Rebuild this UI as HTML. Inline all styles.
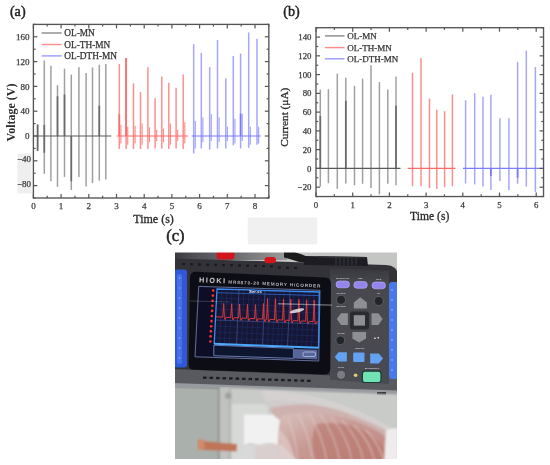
<!DOCTYPE html>
<html><head><meta charset="utf-8"><title>Figure</title>
<style>
html,body{margin:0;padding:0;background:#fff;}
body{width:550px;height:465px;overflow:hidden;}
svg{display:block;}
</style></head>
<body>
<svg width="550" height="465" viewBox="0 0 550 465">
<rect width="550" height="465" fill="#ffffff"/>
<defs>
<filter id="soft" x="-5%" y="-5%" width="110%" height="110%"><feGaussianBlur stdDeviation="0.62"/></filter>
<filter id="ph" x="0" y="0" width="100%" height="100%"><feGaussianBlur stdDeviation="0.62"/></filter>
<filter id="ph3" x="0" y="0" width="100%" height="100%"><feGaussianBlur stdDeviation="1.1"/></filter>
<clipPath id="pc"><rect x="175" y="252.5" width="222" height="206.5"/></clipPath>
</defs>
<g filter="url(#soft)">
<g font-family="'Liberation Serif', 'Times New Roman', serif">
<rect x="17.5" y="153.5" width="14" height="40" fill="#efefef"/>
<rect x="247.8" y="217.4" width="69.4" height="27" fill="#f0f0f0"/>
<line x1="37.6" y1="124.53" x2="37.6" y2="150.88" stroke="#a0a0a0" stroke-width="1.5"/>
<line x1="44.3" y1="60.48" x2="44.3" y2="173.82" stroke="#a0a0a0" stroke-width="1.5"/>
<line x1="50.9" y1="65.63" x2="50.9" y2="181.26" stroke="#a0a0a0" stroke-width="1.5"/>
<line x1="57.5" y1="85.16" x2="57.5" y2="186.84" stroke="#a0a0a0" stroke-width="1.5"/>
<line x1="64.5" y1="68.73" x2="64.5" y2="176.92" stroke="#a0a0a0" stroke-width="1.5"/>
<line x1="71.3" y1="74.62" x2="71.3" y2="189.94" stroke="#a0a0a0" stroke-width="1.5"/>
<line x1="78.9" y1="67.18" x2="78.9" y2="176.92" stroke="#a0a0a0" stroke-width="1.5"/>
<line x1="86.1" y1="73.01" x2="86.1" y2="186.53" stroke="#a0a0a0" stroke-width="1.5"/>
<line x1="92.5" y1="67.49" x2="92.5" y2="183.12" stroke="#a0a0a0" stroke-width="1.5"/>
<line x1="99.3" y1="64.7" x2="99.3" y2="180.64" stroke="#a0a0a0" stroke-width="1.5"/>
<line x1="105.8" y1="64.08" x2="105.8" y2="179.4" stroke="#a0a0a0" stroke-width="1.5"/>
<line x1="37.6" y1="124.53" x2="37.6" y2="150.88" stroke="#6a6a6a" stroke-width="1.7"/>
<line x1="44.3" y1="124.84" x2="44.3" y2="152.74" stroke="#6a6a6a" stroke-width="1.7"/>
<line x1="57.5" y1="96.32" x2="57.5" y2="136" stroke="#6a6a6a" stroke-width="1.7"/>
<line x1="64.5" y1="94.46" x2="64.5" y2="136" stroke="#6a6a6a" stroke-width="1.7"/>
<line x1="71.3" y1="136" x2="71.3" y2="181.26" stroke="#6a6a6a" stroke-width="1.7"/>
<line x1="99.3" y1="105.62" x2="99.3" y2="136" stroke="#6a6a6a" stroke-width="1.7"/>
<line x1="33.4" y1="136" x2="111.2" y2="136" stroke="#5a5a5a" stroke-width="1.1"/>
<line x1="119.3" y1="64.08" x2="119.3" y2="149.02" stroke="#ff8f8f" stroke-width="1.5"/>
<line x1="126.1" y1="57.88" x2="126.1" y2="149.02" stroke="#ff8f8f" stroke-width="1.5"/>
<line x1="133.5" y1="83.3" x2="133.5" y2="149.02" stroke="#ff8f8f" stroke-width="1.5"/>
<line x1="140.5" y1="91.98" x2="140.5" y2="149.02" stroke="#ff8f8f" stroke-width="1.5"/>
<line x1="147.9" y1="67.18" x2="147.9" y2="149.02" stroke="#ff8f8f" stroke-width="1.5"/>
<line x1="155.1" y1="98.18" x2="155.1" y2="148.4" stroke="#ff8f8f" stroke-width="1.5"/>
<line x1="161.8" y1="76.48" x2="161.8" y2="148.4" stroke="#ff8f8f" stroke-width="1.5"/>
<line x1="168.8" y1="82.68" x2="168.8" y2="149.02" stroke="#ff8f8f" stroke-width="1.5"/>
<line x1="176.1" y1="87.64" x2="176.1" y2="148.4" stroke="#ff8f8f" stroke-width="1.5"/>
<line x1="183.2" y1="74.62" x2="183.2" y2="149.02" stroke="#ff8f8f" stroke-width="1.5"/>
<line x1="119.3" y1="114.3" x2="119.3" y2="136" stroke="#ff6a6a" stroke-width="1.7"/>
<line x1="120.9" y1="124.84" x2="120.9" y2="143.44" stroke="#ff8f8f" stroke-width="1.2"/>
<line x1="126.1" y1="57.88" x2="126.1" y2="136" stroke="#ff6a6a" stroke-width="1.7"/>
<line x1="127.7" y1="126.7" x2="127.7" y2="144.68" stroke="#ff8f8f" stroke-width="1.2"/>
<line x1="135.1" y1="126.08" x2="135.1" y2="143.44" stroke="#ff8f8f" stroke-width="1.2"/>
<line x1="142.1" y1="123.6" x2="142.1" y2="144.68" stroke="#ff8f8f" stroke-width="1.2"/>
<line x1="149.5" y1="127.32" x2="149.5" y2="142.2" stroke="#ff8f8f" stroke-width="1.2"/>
<line x1="156.7" y1="129.8" x2="156.7" y2="140.96" stroke="#ff8f8f" stroke-width="1.2"/>
<line x1="163.4" y1="128.56" x2="163.4" y2="142.2" stroke="#ff8f8f" stroke-width="1.2"/>
<line x1="170.4" y1="123.6" x2="170.4" y2="144.68" stroke="#ff8f8f" stroke-width="1.2"/>
<line x1="177.7" y1="129.8" x2="177.7" y2="140.96" stroke="#ff8f8f" stroke-width="1.2"/>
<line x1="184.8" y1="122.36" x2="184.8" y2="143.44" stroke="#ff8f8f" stroke-width="1.2"/>
<line x1="116.6" y1="136" x2="188" y2="136" stroke="#ff6a6a" stroke-width="1.1"/>
<line x1="193.7" y1="44.24" x2="193.7" y2="153.36" stroke="#a5a5ff" stroke-width="1.5"/>
<line x1="201.3" y1="52.92" x2="201.3" y2="148.4" stroke="#a5a5ff" stroke-width="1.5"/>
<line x1="209.7" y1="67.18" x2="209.7" y2="149.64" stroke="#a5a5ff" stroke-width="1.5"/>
<line x1="217.5" y1="39.9" x2="217.5" y2="148.4" stroke="#a5a5ff" stroke-width="1.5"/>
<line x1="225.8" y1="78.34" x2="225.8" y2="148.4" stroke="#a5a5ff" stroke-width="1.5"/>
<line x1="233.3" y1="56.02" x2="233.3" y2="145.3" stroke="#a5a5ff" stroke-width="1.5"/>
<line x1="240.6" y1="53.54" x2="240.6" y2="148.4" stroke="#a5a5ff" stroke-width="1.5"/>
<line x1="248.7" y1="32.46" x2="248.7" y2="147.78" stroke="#a5a5ff" stroke-width="1.5"/>
<line x1="257" y1="38.66" x2="257" y2="144.68" stroke="#a5a5ff" stroke-width="1.5"/>
<line x1="195.3" y1="121.12" x2="195.3" y2="148.4" stroke="#a5a5ff" stroke-width="1.2"/>
<line x1="202.9" y1="117.4" x2="202.9" y2="142.2" stroke="#a5a5ff" stroke-width="1.2"/>
<line x1="211.3" y1="114.3" x2="211.3" y2="140.96" stroke="#a5a5ff" stroke-width="1.2"/>
<line x1="219.1" y1="117.4" x2="219.1" y2="142.2" stroke="#a5a5ff" stroke-width="1.2"/>
<line x1="227.4" y1="126.7" x2="227.4" y2="140.96" stroke="#a5a5ff" stroke-width="1.2"/>
<line x1="234.9" y1="118.64" x2="234.9" y2="143.44" stroke="#a5a5ff" stroke-width="1.2"/>
<line x1="240.6" y1="113.68" x2="240.6" y2="136" stroke="#7878ff" stroke-width="1.7"/>
<line x1="242.2" y1="113.68" x2="242.2" y2="140.96" stroke="#a5a5ff" stroke-width="1.2"/>
<line x1="250.3" y1="126.7" x2="250.3" y2="144.68" stroke="#a5a5ff" stroke-width="1.2"/>
<line x1="258.6" y1="126.7" x2="258.6" y2="143.44" stroke="#a5a5ff" stroke-width="1.2"/>
<line x1="191.6" y1="136" x2="260.7" y2="136" stroke="#7c7cff" stroke-width="1.1"/>
<rect x="33.4" y="24.4" width="235.45" height="173.6" fill="none" stroke="#555555" stroke-width="1.35"/>
<line x1="33.4" y1="198" x2="33.4" y2="194" stroke="#555555" stroke-width="1.2"/>
<line x1="33.4" y1="24.4" x2="33.4" y2="28.4" stroke="#555555" stroke-width="1.2"/>
<text x="33.4" y="209.2" font-size="9" text-anchor="middle" font-weight="normal" fill="#3a3a3a" stroke="#3a3a3a" stroke-width="0.25">0</text>
<line x1="47.25" y1="198" x2="47.25" y2="195.8" stroke="#555555" stroke-width="1.2"/>
<line x1="47.25" y1="24.4" x2="47.25" y2="26.6" stroke="#555555" stroke-width="1.2"/>
<line x1="61.1" y1="198" x2="61.1" y2="194" stroke="#555555" stroke-width="1.2"/>
<line x1="61.1" y1="24.4" x2="61.1" y2="28.4" stroke="#555555" stroke-width="1.2"/>
<text x="61.1" y="209.2" font-size="9" text-anchor="middle" font-weight="normal" fill="#3a3a3a" stroke="#3a3a3a" stroke-width="0.25">1</text>
<line x1="74.95" y1="198" x2="74.95" y2="195.8" stroke="#555555" stroke-width="1.2"/>
<line x1="74.95" y1="24.4" x2="74.95" y2="26.6" stroke="#555555" stroke-width="1.2"/>
<line x1="88.8" y1="198" x2="88.8" y2="194" stroke="#555555" stroke-width="1.2"/>
<line x1="88.8" y1="24.4" x2="88.8" y2="28.4" stroke="#555555" stroke-width="1.2"/>
<text x="88.8" y="209.2" font-size="9" text-anchor="middle" font-weight="normal" fill="#3a3a3a" stroke="#3a3a3a" stroke-width="0.25">2</text>
<line x1="102.65" y1="198" x2="102.65" y2="195.8" stroke="#555555" stroke-width="1.2"/>
<line x1="102.65" y1="24.4" x2="102.65" y2="26.6" stroke="#555555" stroke-width="1.2"/>
<line x1="116.5" y1="198" x2="116.5" y2="194" stroke="#555555" stroke-width="1.2"/>
<line x1="116.5" y1="24.4" x2="116.5" y2="28.4" stroke="#555555" stroke-width="1.2"/>
<text x="116.5" y="209.2" font-size="9" text-anchor="middle" font-weight="normal" fill="#3a3a3a" stroke="#3a3a3a" stroke-width="0.25">3</text>
<line x1="130.35" y1="198" x2="130.35" y2="195.8" stroke="#555555" stroke-width="1.2"/>
<line x1="130.35" y1="24.4" x2="130.35" y2="26.6" stroke="#555555" stroke-width="1.2"/>
<line x1="144.2" y1="198" x2="144.2" y2="194" stroke="#555555" stroke-width="1.2"/>
<line x1="144.2" y1="24.4" x2="144.2" y2="28.4" stroke="#555555" stroke-width="1.2"/>
<text x="144.2" y="209.2" font-size="9" text-anchor="middle" font-weight="normal" fill="#3a3a3a" stroke="#3a3a3a" stroke-width="0.25">4</text>
<line x1="158.05" y1="198" x2="158.05" y2="195.8" stroke="#555555" stroke-width="1.2"/>
<line x1="158.05" y1="24.4" x2="158.05" y2="26.6" stroke="#555555" stroke-width="1.2"/>
<line x1="171.9" y1="198" x2="171.9" y2="194" stroke="#555555" stroke-width="1.2"/>
<line x1="171.9" y1="24.4" x2="171.9" y2="28.4" stroke="#555555" stroke-width="1.2"/>
<text x="171.9" y="209.2" font-size="9" text-anchor="middle" font-weight="normal" fill="#3a3a3a" stroke="#3a3a3a" stroke-width="0.25">5</text>
<line x1="185.75" y1="198" x2="185.75" y2="195.8" stroke="#555555" stroke-width="1.2"/>
<line x1="185.75" y1="24.4" x2="185.75" y2="26.6" stroke="#555555" stroke-width="1.2"/>
<line x1="199.6" y1="198" x2="199.6" y2="194" stroke="#555555" stroke-width="1.2"/>
<line x1="199.6" y1="24.4" x2="199.6" y2="28.4" stroke="#555555" stroke-width="1.2"/>
<text x="199.6" y="209.2" font-size="9" text-anchor="middle" font-weight="normal" fill="#3a3a3a" stroke="#3a3a3a" stroke-width="0.25">6</text>
<line x1="213.45" y1="198" x2="213.45" y2="195.8" stroke="#555555" stroke-width="1.2"/>
<line x1="213.45" y1="24.4" x2="213.45" y2="26.6" stroke="#555555" stroke-width="1.2"/>
<line x1="227.3" y1="198" x2="227.3" y2="194" stroke="#555555" stroke-width="1.2"/>
<line x1="227.3" y1="24.4" x2="227.3" y2="28.4" stroke="#555555" stroke-width="1.2"/>
<text x="227.3" y="209.2" font-size="9" text-anchor="middle" font-weight="normal" fill="#3a3a3a" stroke="#3a3a3a" stroke-width="0.25">7</text>
<line x1="241.15" y1="198" x2="241.15" y2="195.8" stroke="#555555" stroke-width="1.2"/>
<line x1="241.15" y1="24.4" x2="241.15" y2="26.6" stroke="#555555" stroke-width="1.2"/>
<line x1="255" y1="198" x2="255" y2="194" stroke="#555555" stroke-width="1.2"/>
<line x1="255" y1="24.4" x2="255" y2="28.4" stroke="#555555" stroke-width="1.2"/>
<text x="255" y="209.2" font-size="9" text-anchor="middle" font-weight="normal" fill="#3a3a3a" stroke="#3a3a3a" stroke-width="0.25">8</text>
<line x1="268.85" y1="198" x2="268.85" y2="195.8" stroke="#555555" stroke-width="1.2"/>
<line x1="268.85" y1="24.4" x2="268.85" y2="26.6" stroke="#555555" stroke-width="1.2"/>
<line x1="33.4" y1="198" x2="35.6" y2="198" stroke="#555555" stroke-width="1.2"/>
<line x1="268.85" y1="198" x2="266.65" y2="198" stroke="#555555" stroke-width="1.2"/>
<line x1="33.4" y1="185.6" x2="37.4" y2="185.6" stroke="#555555" stroke-width="1.2"/>
<line x1="268.85" y1="185.6" x2="264.85" y2="185.6" stroke="#555555" stroke-width="1.2"/>
<text x="31" y="186.7" font-size="9" text-anchor="end" font-weight="normal" fill="#3a3a3a" stroke="#3a3a3a" stroke-width="0.25">&#8722;80</text>
<line x1="33.4" y1="173.2" x2="35.6" y2="173.2" stroke="#555555" stroke-width="1.2"/>
<line x1="268.85" y1="173.2" x2="266.65" y2="173.2" stroke="#555555" stroke-width="1.2"/>
<line x1="33.4" y1="160.8" x2="37.4" y2="160.8" stroke="#555555" stroke-width="1.2"/>
<line x1="268.85" y1="160.8" x2="264.85" y2="160.8" stroke="#555555" stroke-width="1.2"/>
<text x="31" y="161.9" font-size="9" text-anchor="end" font-weight="normal" fill="#3a3a3a" stroke="#3a3a3a" stroke-width="0.25">&#8722;40</text>
<line x1="33.4" y1="148.4" x2="35.6" y2="148.4" stroke="#555555" stroke-width="1.2"/>
<line x1="268.85" y1="148.4" x2="266.65" y2="148.4" stroke="#555555" stroke-width="1.2"/>
<line x1="33.4" y1="136" x2="37.4" y2="136" stroke="#555555" stroke-width="1.2"/>
<line x1="268.85" y1="136" x2="264.85" y2="136" stroke="#555555" stroke-width="1.2"/>
<text x="29.5" y="139.1" font-size="9" text-anchor="end" font-weight="normal" fill="#3a3a3a" stroke="#3a3a3a" stroke-width="0.25">0</text>
<line x1="33.4" y1="123.6" x2="35.6" y2="123.6" stroke="#555555" stroke-width="1.2"/>
<line x1="268.85" y1="123.6" x2="266.65" y2="123.6" stroke="#555555" stroke-width="1.2"/>
<line x1="33.4" y1="111.2" x2="37.4" y2="111.2" stroke="#555555" stroke-width="1.2"/>
<line x1="268.85" y1="111.2" x2="264.85" y2="111.2" stroke="#555555" stroke-width="1.2"/>
<text x="29.5" y="114.3" font-size="9" text-anchor="end" font-weight="normal" fill="#3a3a3a" stroke="#3a3a3a" stroke-width="0.25">40</text>
<line x1="33.4" y1="98.8" x2="35.6" y2="98.8" stroke="#555555" stroke-width="1.2"/>
<line x1="268.85" y1="98.8" x2="266.65" y2="98.8" stroke="#555555" stroke-width="1.2"/>
<line x1="33.4" y1="86.4" x2="37.4" y2="86.4" stroke="#555555" stroke-width="1.2"/>
<line x1="268.85" y1="86.4" x2="264.85" y2="86.4" stroke="#555555" stroke-width="1.2"/>
<text x="29.5" y="89.5" font-size="9" text-anchor="end" font-weight="normal" fill="#3a3a3a" stroke="#3a3a3a" stroke-width="0.25">80</text>
<line x1="33.4" y1="74" x2="35.6" y2="74" stroke="#555555" stroke-width="1.2"/>
<line x1="268.85" y1="74" x2="266.65" y2="74" stroke="#555555" stroke-width="1.2"/>
<line x1="33.4" y1="61.6" x2="37.4" y2="61.6" stroke="#555555" stroke-width="1.2"/>
<line x1="268.85" y1="61.6" x2="264.85" y2="61.6" stroke="#555555" stroke-width="1.2"/>
<text x="29.5" y="64.7" font-size="9" text-anchor="end" font-weight="normal" fill="#3a3a3a" stroke="#3a3a3a" stroke-width="0.25">120</text>
<line x1="33.4" y1="49.2" x2="35.6" y2="49.2" stroke="#555555" stroke-width="1.2"/>
<line x1="268.85" y1="49.2" x2="266.65" y2="49.2" stroke="#555555" stroke-width="1.2"/>
<line x1="33.4" y1="36.8" x2="37.4" y2="36.8" stroke="#555555" stroke-width="1.2"/>
<line x1="268.85" y1="36.8" x2="264.85" y2="36.8" stroke="#555555" stroke-width="1.2"/>
<text x="29.5" y="39.9" font-size="9" text-anchor="end" font-weight="normal" fill="#3a3a3a" stroke="#3a3a3a" stroke-width="0.25">160</text>
<line x1="33.4" y1="24.4" x2="35.6" y2="24.4" stroke="#555555" stroke-width="1.2"/>
<line x1="268.85" y1="24.4" x2="266.65" y2="24.4" stroke="#555555" stroke-width="1.2"/>
<line x1="41.6" y1="33" x2="61.7" y2="33" stroke="#8a8a8a" stroke-width="1.4"/>
<text x="64.3" y="36.2" font-size="9.3" text-anchor="start" font-weight="normal" fill="#333" stroke="#333" stroke-width="0.25">OL-MN</text>
<line x1="41.6" y1="44.5" x2="61.7" y2="44.5" stroke="#ff8a8a" stroke-width="1.4"/>
<text x="64.3" y="47.7" font-size="9.3" text-anchor="start" font-weight="normal" fill="#333" stroke="#333" stroke-width="0.25">OL-TH-MN</text>
<line x1="41.6" y1="55.9" x2="61.7" y2="55.9" stroke="#9a9aff" stroke-width="1.4"/>
<text x="64.3" y="59.1" font-size="9.3" text-anchor="start" font-weight="normal" fill="#333" stroke="#333" stroke-width="0.25">OL-DTH-MN</text>
<line x1="320.3" y1="89.61" x2="320.3" y2="186.6" stroke="#a0a0a0" stroke-width="1.5"/>
<line x1="328.4" y1="89.23" x2="328.4" y2="183.22" stroke="#a0a0a0" stroke-width="1.5"/>
<line x1="337.3" y1="73.66" x2="337.3" y2="188.85" stroke="#a0a0a0" stroke-width="1.5"/>
<line x1="345.8" y1="77.79" x2="345.8" y2="183.41" stroke="#a0a0a0" stroke-width="1.5"/>
<line x1="354.5" y1="85.86" x2="354.5" y2="185.28" stroke="#a0a0a0" stroke-width="1.5"/>
<line x1="362.6" y1="78.63" x2="362.6" y2="183.78" stroke="#a0a0a0" stroke-width="1.5"/>
<line x1="371" y1="65.22" x2="371" y2="188.1" stroke="#a0a0a0" stroke-width="1.5"/>
<line x1="379.4" y1="82.1" x2="379.4" y2="194.38" stroke="#a0a0a0" stroke-width="1.5"/>
<line x1="387.8" y1="89.61" x2="387.8" y2="183.78" stroke="#a0a0a0" stroke-width="1.5"/>
<line x1="396" y1="76.48" x2="396" y2="185.28" stroke="#a0a0a0" stroke-width="1.5"/>
<line x1="320.3" y1="115.87" x2="320.3" y2="168.4" stroke="#6a6a6a" stroke-width="1.7"/>
<line x1="345.8" y1="100.86" x2="345.8" y2="168.4" stroke="#6a6a6a" stroke-width="1.7"/>
<line x1="396" y1="105.84" x2="396" y2="168.4" stroke="#6a6a6a" stroke-width="1.7"/>
<line x1="316" y1="168.4" x2="400.5" y2="168.4" stroke="#5a5a5a" stroke-width="1.1"/>
<line x1="412.5" y1="72.72" x2="412.5" y2="186.22" stroke="#ff8f8f" stroke-width="1.5"/>
<line x1="421" y1="57.9" x2="421" y2="186.22" stroke="#ff8f8f" stroke-width="1.5"/>
<line x1="429.5" y1="98.52" x2="429.5" y2="188.1" stroke="#ff8f8f" stroke-width="1.5"/>
<line x1="436.8" y1="109.87" x2="436.8" y2="189.04" stroke="#ff8f8f" stroke-width="1.5"/>
<line x1="444.6" y1="111.18" x2="444.6" y2="187.16" stroke="#ff8f8f" stroke-width="1.5"/>
<line x1="452.4" y1="94.3" x2="452.4" y2="186.22" stroke="#ff8f8f" stroke-width="1.5"/>
<line x1="407.7" y1="168.4" x2="455.5" y2="168.4" stroke="#ff6a6a" stroke-width="1.1"/>
<line x1="465.6" y1="100.3" x2="465.6" y2="183.41" stroke="#a5a5ff" stroke-width="1.5"/>
<line x1="474.7" y1="93.17" x2="474.7" y2="184.35" stroke="#a5a5ff" stroke-width="1.5"/>
<line x1="483" y1="96.74" x2="483" y2="186.6" stroke="#a5a5ff" stroke-width="1.5"/>
<line x1="490.9" y1="94.67" x2="490.9" y2="189.97" stroke="#a5a5ff" stroke-width="1.5"/>
<line x1="499.9" y1="118.31" x2="499.9" y2="180.97" stroke="#a5a5ff" stroke-width="1.5"/>
<line x1="508.9" y1="118.31" x2="508.9" y2="189.97" stroke="#a5a5ff" stroke-width="1.5"/>
<line x1="517.6" y1="61.94" x2="517.6" y2="183.78" stroke="#a5a5ff" stroke-width="1.5"/>
<line x1="526.3" y1="50.59" x2="526.3" y2="186.6" stroke="#a5a5ff" stroke-width="1.5"/>
<line x1="535.4" y1="67.1" x2="535.4" y2="191.85" stroke="#a5a5ff" stroke-width="1.5"/>
<line x1="490.9" y1="168.4" x2="490.9" y2="175.9" stroke="#7878ff" stroke-width="1.7"/>
<line x1="517.6" y1="168.4" x2="517.6" y2="177.78" stroke="#7878ff" stroke-width="1.7"/>
<line x1="463" y1="168.4" x2="543" y2="168.4" stroke="#7c7cff" stroke-width="1.1"/>
<rect x="316" y="27.7" width="227.54" height="168.84" fill="none" stroke="#555555" stroke-width="1.35"/>
<line x1="316" y1="196.54" x2="316" y2="192.54" stroke="#555555" stroke-width="1.2"/>
<line x1="316" y1="27.7" x2="316" y2="31.7" stroke="#555555" stroke-width="1.2"/>
<text x="316" y="207.6" font-size="8.8" text-anchor="middle" font-weight="normal" fill="#3a3a3a" stroke="#3a3a3a" stroke-width="0.25">0</text>
<line x1="334.35" y1="196.54" x2="334.35" y2="194.34" stroke="#555555" stroke-width="1.2"/>
<line x1="334.35" y1="27.7" x2="334.35" y2="29.9" stroke="#555555" stroke-width="1.2"/>
<line x1="352.7" y1="196.54" x2="352.7" y2="192.54" stroke="#555555" stroke-width="1.2"/>
<line x1="352.7" y1="27.7" x2="352.7" y2="31.7" stroke="#555555" stroke-width="1.2"/>
<text x="352.7" y="207.6" font-size="8.8" text-anchor="middle" font-weight="normal" fill="#3a3a3a" stroke="#3a3a3a" stroke-width="0.25">1</text>
<line x1="371.05" y1="196.54" x2="371.05" y2="194.34" stroke="#555555" stroke-width="1.2"/>
<line x1="371.05" y1="27.7" x2="371.05" y2="29.9" stroke="#555555" stroke-width="1.2"/>
<line x1="389.4" y1="196.54" x2="389.4" y2="192.54" stroke="#555555" stroke-width="1.2"/>
<line x1="389.4" y1="27.7" x2="389.4" y2="31.7" stroke="#555555" stroke-width="1.2"/>
<text x="389.4" y="207.6" font-size="8.8" text-anchor="middle" font-weight="normal" fill="#3a3a3a" stroke="#3a3a3a" stroke-width="0.25">2</text>
<line x1="407.75" y1="196.54" x2="407.75" y2="194.34" stroke="#555555" stroke-width="1.2"/>
<line x1="407.75" y1="27.7" x2="407.75" y2="29.9" stroke="#555555" stroke-width="1.2"/>
<line x1="426.1" y1="196.54" x2="426.1" y2="192.54" stroke="#555555" stroke-width="1.2"/>
<line x1="426.1" y1="27.7" x2="426.1" y2="31.7" stroke="#555555" stroke-width="1.2"/>
<text x="426.1" y="207.6" font-size="8.8" text-anchor="middle" font-weight="normal" fill="#3a3a3a" stroke="#3a3a3a" stroke-width="0.25">3</text>
<line x1="444.45" y1="196.54" x2="444.45" y2="194.34" stroke="#555555" stroke-width="1.2"/>
<line x1="444.45" y1="27.7" x2="444.45" y2="29.9" stroke="#555555" stroke-width="1.2"/>
<line x1="462.8" y1="196.54" x2="462.8" y2="192.54" stroke="#555555" stroke-width="1.2"/>
<line x1="462.8" y1="27.7" x2="462.8" y2="31.7" stroke="#555555" stroke-width="1.2"/>
<text x="462.8" y="207.6" font-size="8.8" text-anchor="middle" font-weight="normal" fill="#3a3a3a" stroke="#3a3a3a" stroke-width="0.25">4</text>
<line x1="481.15" y1="196.54" x2="481.15" y2="194.34" stroke="#555555" stroke-width="1.2"/>
<line x1="481.15" y1="27.7" x2="481.15" y2="29.9" stroke="#555555" stroke-width="1.2"/>
<line x1="499.5" y1="196.54" x2="499.5" y2="192.54" stroke="#555555" stroke-width="1.2"/>
<line x1="499.5" y1="27.7" x2="499.5" y2="31.7" stroke="#555555" stroke-width="1.2"/>
<text x="499.5" y="207.6" font-size="8.8" text-anchor="middle" font-weight="normal" fill="#3a3a3a" stroke="#3a3a3a" stroke-width="0.25">5</text>
<line x1="517.85" y1="196.54" x2="517.85" y2="194.34" stroke="#555555" stroke-width="1.2"/>
<line x1="517.85" y1="27.7" x2="517.85" y2="29.9" stroke="#555555" stroke-width="1.2"/>
<line x1="536.2" y1="196.54" x2="536.2" y2="192.54" stroke="#555555" stroke-width="1.2"/>
<line x1="536.2" y1="27.7" x2="536.2" y2="31.7" stroke="#555555" stroke-width="1.2"/>
<text x="536.2" y="207.6" font-size="8.8" text-anchor="middle" font-weight="normal" fill="#3a3a3a" stroke="#3a3a3a" stroke-width="0.25">6</text>
<line x1="316" y1="196.54" x2="318.2" y2="196.54" stroke="#555555" stroke-width="1.2"/>
<line x1="543.54" y1="196.54" x2="541.34" y2="196.54" stroke="#555555" stroke-width="1.2"/>
<line x1="316" y1="187.16" x2="320" y2="187.16" stroke="#555555" stroke-width="1.2"/>
<line x1="543.54" y1="187.16" x2="539.54" y2="187.16" stroke="#555555" stroke-width="1.2"/>
<text x="311.5" y="190.26" font-size="8.8" text-anchor="end" font-weight="normal" fill="#3a3a3a" stroke="#3a3a3a" stroke-width="0.25">&#8722;20</text>
<line x1="316" y1="177.78" x2="318.2" y2="177.78" stroke="#555555" stroke-width="1.2"/>
<line x1="543.54" y1="177.78" x2="541.34" y2="177.78" stroke="#555555" stroke-width="1.2"/>
<line x1="316" y1="168.4" x2="320" y2="168.4" stroke="#555555" stroke-width="1.2"/>
<line x1="543.54" y1="168.4" x2="539.54" y2="168.4" stroke="#555555" stroke-width="1.2"/>
<text x="311.5" y="171.5" font-size="8.8" text-anchor="end" font-weight="normal" fill="#3a3a3a" stroke="#3a3a3a" stroke-width="0.25">0</text>
<line x1="316" y1="159.02" x2="318.2" y2="159.02" stroke="#555555" stroke-width="1.2"/>
<line x1="543.54" y1="159.02" x2="541.34" y2="159.02" stroke="#555555" stroke-width="1.2"/>
<line x1="316" y1="149.64" x2="320" y2="149.64" stroke="#555555" stroke-width="1.2"/>
<line x1="543.54" y1="149.64" x2="539.54" y2="149.64" stroke="#555555" stroke-width="1.2"/>
<text x="311.5" y="152.74" font-size="8.8" text-anchor="end" font-weight="normal" fill="#3a3a3a" stroke="#3a3a3a" stroke-width="0.25">20</text>
<line x1="316" y1="140.26" x2="318.2" y2="140.26" stroke="#555555" stroke-width="1.2"/>
<line x1="543.54" y1="140.26" x2="541.34" y2="140.26" stroke="#555555" stroke-width="1.2"/>
<line x1="316" y1="130.88" x2="320" y2="130.88" stroke="#555555" stroke-width="1.2"/>
<line x1="543.54" y1="130.88" x2="539.54" y2="130.88" stroke="#555555" stroke-width="1.2"/>
<text x="311.5" y="133.98" font-size="8.8" text-anchor="end" font-weight="normal" fill="#3a3a3a" stroke="#3a3a3a" stroke-width="0.25">40</text>
<line x1="316" y1="121.5" x2="318.2" y2="121.5" stroke="#555555" stroke-width="1.2"/>
<line x1="543.54" y1="121.5" x2="541.34" y2="121.5" stroke="#555555" stroke-width="1.2"/>
<line x1="316" y1="112.12" x2="320" y2="112.12" stroke="#555555" stroke-width="1.2"/>
<line x1="543.54" y1="112.12" x2="539.54" y2="112.12" stroke="#555555" stroke-width="1.2"/>
<text x="311.5" y="115.22" font-size="8.8" text-anchor="end" font-weight="normal" fill="#3a3a3a" stroke="#3a3a3a" stroke-width="0.25">60</text>
<line x1="316" y1="102.74" x2="318.2" y2="102.74" stroke="#555555" stroke-width="1.2"/>
<line x1="543.54" y1="102.74" x2="541.34" y2="102.74" stroke="#555555" stroke-width="1.2"/>
<line x1="316" y1="93.36" x2="320" y2="93.36" stroke="#555555" stroke-width="1.2"/>
<line x1="543.54" y1="93.36" x2="539.54" y2="93.36" stroke="#555555" stroke-width="1.2"/>
<text x="311.5" y="96.46" font-size="8.8" text-anchor="end" font-weight="normal" fill="#3a3a3a" stroke="#3a3a3a" stroke-width="0.25">80</text>
<line x1="316" y1="83.98" x2="318.2" y2="83.98" stroke="#555555" stroke-width="1.2"/>
<line x1="543.54" y1="83.98" x2="541.34" y2="83.98" stroke="#555555" stroke-width="1.2"/>
<line x1="316" y1="74.6" x2="320" y2="74.6" stroke="#555555" stroke-width="1.2"/>
<line x1="543.54" y1="74.6" x2="539.54" y2="74.6" stroke="#555555" stroke-width="1.2"/>
<text x="311.5" y="77.7" font-size="8.8" text-anchor="end" font-weight="normal" fill="#3a3a3a" stroke="#3a3a3a" stroke-width="0.25">100</text>
<line x1="316" y1="65.22" x2="318.2" y2="65.22" stroke="#555555" stroke-width="1.2"/>
<line x1="543.54" y1="65.22" x2="541.34" y2="65.22" stroke="#555555" stroke-width="1.2"/>
<line x1="316" y1="55.84" x2="320" y2="55.84" stroke="#555555" stroke-width="1.2"/>
<line x1="543.54" y1="55.84" x2="539.54" y2="55.84" stroke="#555555" stroke-width="1.2"/>
<text x="311.5" y="58.94" font-size="8.8" text-anchor="end" font-weight="normal" fill="#3a3a3a" stroke="#3a3a3a" stroke-width="0.25">120</text>
<line x1="316" y1="46.46" x2="318.2" y2="46.46" stroke="#555555" stroke-width="1.2"/>
<line x1="543.54" y1="46.46" x2="541.34" y2="46.46" stroke="#555555" stroke-width="1.2"/>
<line x1="316" y1="37.08" x2="320" y2="37.08" stroke="#555555" stroke-width="1.2"/>
<line x1="543.54" y1="37.08" x2="539.54" y2="37.08" stroke="#555555" stroke-width="1.2"/>
<text x="311.5" y="40.18" font-size="8.8" text-anchor="end" font-weight="normal" fill="#3a3a3a" stroke="#3a3a3a" stroke-width="0.25">140</text>
<line x1="316" y1="27.7" x2="318.2" y2="27.7" stroke="#555555" stroke-width="1.2"/>
<line x1="543.54" y1="27.7" x2="541.34" y2="27.7" stroke="#555555" stroke-width="1.2"/>
<line x1="324.9" y1="35.9" x2="344.5" y2="35.9" stroke="#8a8a8a" stroke-width="1.4"/>
<text x="347.3" y="39.1" font-size="9.0" text-anchor="start" font-weight="normal" fill="#333" stroke="#333" stroke-width="0.25">OL-MN</text>
<line x1="324.9" y1="47.6" x2="344.5" y2="47.6" stroke="#ff8a8a" stroke-width="1.4"/>
<text x="347.3" y="50.8" font-size="9.0" text-anchor="start" font-weight="normal" fill="#333" stroke="#333" stroke-width="0.25">OL-TH-MN</text>
<line x1="324.9" y1="58.8" x2="344.5" y2="58.8" stroke="#9a9aff" stroke-width="1.4"/>
<text x="347.3" y="62" font-size="9.0" text-anchor="start" font-weight="normal" fill="#333" stroke="#333" stroke-width="0.25">OL-DTH-MN</text>
<text x="153.6" y="222.8" font-size="12" text-anchor="middle" font-weight="normal" fill="#2a2a2a" stroke="#2a2a2a" stroke-width="0.3">Time (s)</text>
<text x="429.7" y="220.4" font-size="11.6" text-anchor="middle" font-weight="normal" fill="#2a2a2a" stroke="#2a2a2a" stroke-width="0.3">Time (s)</text>
<text transform="translate(15.3,112.5) rotate(-90)" font-size="12" font-weight="bold" text-anchor="middle" fill="#2a2a2a">Voltage (V)</text>
<text transform="translate(288,117.2) rotate(-90)" font-size="11.3" text-anchor="middle" fill="#2a2a2a" stroke="#2a2a2a" stroke-width="0.3">Current (&#956;A)</text>
<text x="9.9" y="15.6" font-size="14.2" text-anchor="start" font-weight="normal" fill="#222" stroke="#222" stroke-width="0.45">(a)</text>
<text x="283.2" y="15.8" font-size="14.2" text-anchor="start" font-weight="normal" fill="#222" stroke="#222" stroke-width="0.45">(b)</text>
<text x="166.2" y="240.6" font-size="16.6" text-anchor="start" font-weight="normal" fill="#222" stroke="#222" stroke-width="0.5">(c)</text>
</g>
</g>
<defs>
<linearGradient id="topg" x1="0" x2="1" y1="0" y2="0">
  <stop offset="0" stop-color="#34353a"/><stop offset="0.2" stop-color="#4e4f53"/><stop offset="0.6" stop-color="#6e6f72"/><stop offset="1" stop-color="#9a9c9c"/>
</linearGradient>
<linearGradient id="panelg" x1="0" x2="0" y1="0" y2="1"><stop offset="0" stop-color="#36373c"/><stop offset="0.12" stop-color="#46474e"/><stop offset="1" stop-color="#4a4b52"/></linearGradient>
<linearGradient id="handg" x1="0" x2="1" y1="0" y2="1">
  <stop offset="0" stop-color="#d8c0bd"/><stop offset="0.45" stop-color="#c89a94"/><stop offset="1" stop-color="#c0847c"/>
</linearGradient>
</defs>
<g clip-path="url(#pc)">
<g filter="url(#ph)">
  <!-- base: table -->
  <rect x="170" y="248" width="232" height="215" fill="#aab0ab"/>
  <!-- wall at top -->
  <rect x="170" y="248" width="232" height="20" fill="#c3c6c3"/>
  <!-- top strip left gradient -->
  <rect x="170" y="248" width="117" height="12" fill="url(#topg)"/>
  <!-- device body -->
  <path d="M170,258.3 L386,265 Q397,265.5 398,275 L398,393.5 L170,386 Z" fill="#313237"/>
  <!-- black cable + connector -->
  <path d="M284,250 Q294,251 302,254.5 L308,257 L308,263 L299,262 Q291,259 284,257.5 Z" fill="#1a1a1d"/>
  <path d="M304,256 L367,257 L368,266 L304,265 Z" fill="#1f1f23"/>
  <path d="M318,256.3 L367,257 L367,258.5 L318,258 Z" fill="#2c2c31"/>
  <g stroke="#3a3a41" stroke-width="0.9">
    <line x1="336" y1="257" x2="336" y2="265"/><line x1="340" y1="257" x2="340" y2="265"/><line x1="344" y1="257" x2="344" y2="265"/><line x1="348" y1="257" x2="348" y2="265"/><line x1="352" y1="257" x2="352" y2="265"/><line x1="356" y1="257" x2="356" y2="265"/>
  </g>
  <!-- red knobs -->
  <rect x="216.5" y="251" width="18" height="8.5" rx="3.5" fill="#d0181c"/>
  <rect x="264.5" y="257" width="11.5" height="6.3" rx="3" fill="#d4181c"/>
  <!-- vent row top -->
  <g fill="#1b1c1f">
    <rect x="182" y="263" width="3" height="2.2"/><rect x="190" y="263.2" width="3" height="2.2"/><rect x="198" y="263.4" width="3" height="2.2"/>
    <rect x="206" y="263.6" width="3" height="2.2"/><rect x="214" y="263.8" width="3" height="2.2"/><rect x="222" y="264" width="3" height="2.2"/>
    <rect x="230" y="264.2" width="3" height="2.2"/><rect x="238" y="264.4" width="3" height="2.2"/><rect x="246" y="264.6" width="3" height="2.2"/>
    <rect x="254" y="264.8" width="3" height="2.2"/><rect x="262" y="265" width="3" height="2.2"/><rect x="270" y="265.2" width="3" height="2.2"/>
    <rect x="278" y="266.4" width="3" height="2.2"/><rect x="286" y="266.6" width="3" height="2.2"/><rect x="294" y="266.8" width="3" height="2.2"/>
  </g>
  <!-- lower body lighter grey -->
  <path d="M170,369 L398,378 L398,393.5 L170,386 Z" fill="#585a60"/>
  <path d="M170,383 L398,390.5 L398,395 L170,388 Z" fill="#979a9e"/>
  <!-- bottom vent slots -->
  <g fill="#1c1d20">
    <rect x="203" y="376.5" width="3.6" height="2.3"/><rect x="209.5" y="376.7" width="3.6" height="2.3"/><rect x="216" y="376.9" width="3.6" height="2.3"/>
    <rect x="222.5" y="377.1" width="3.6" height="2.3"/><rect x="229" y="377.3" width="3.6" height="2.3"/><rect x="235.5" y="377.5" width="3.6" height="2.3"/>
    <rect x="242" y="377.7" width="3.6" height="2.3"/><rect x="248.5" y="377.9" width="3.6" height="2.3"/><rect x="255" y="378.1" width="3.6" height="2.3"/>
    <rect x="261.5" y="378.3" width="3.6" height="2.3"/><rect x="268" y="378.5" width="3.6" height="2.3"/><rect x="274.5" y="378.7" width="3.6" height="2.3"/>
    <rect x="281" y="378.9" width="3.6" height="2.3"/><rect x="287.5" y="379.1" width="3.6" height="2.3"/><rect x="294" y="379.3" width="3.6" height="2.3"/>
    <rect x="300.5" y="379.5" width="3.6" height="2.3"/><rect x="307" y="379.7" width="3.6" height="2.3"/>
  </g>
  <!-- left blue bumper -->
  <rect x="174" y="269.5" width="13" height="98" rx="3" fill="#2f58d8"/>
  <rect x="177" y="274" width="5" height="90" rx="2" fill="#4670e4"/>
  <g fill="#7896f0">
    <circle cx="179.5" cy="278" r="0.9"/><circle cx="179.5" cy="288" r="0.9"/><circle cx="179.5" cy="298" r="0.9"/><circle cx="179.5" cy="308" r="0.9"/>
    <circle cx="179.5" cy="318" r="0.9"/><circle cx="179.5" cy="328" r="0.9"/><circle cx="179.5" cy="338" r="0.9"/><circle cx="179.5" cy="348" r="0.9"/><circle cx="179.5" cy="358" r="0.9"/>
  </g>
  <!-- right blue bumper -->
  <rect x="389" y="282" width="10" height="97" rx="3" fill="#4a78ea"/>
  <g fill="#86a4f4">
    <circle cx="392" cy="290" r="0.9"/><circle cx="392" cy="300" r="0.9"/><circle cx="392" cy="310" r="0.9"/><circle cx="392" cy="320" r="0.9"/>
    <circle cx="392" cy="330" r="0.9"/><circle cx="392" cy="340" r="0.9"/><circle cx="392" cy="350" r="0.9"/><circle cx="392" cy="360" r="0.9"/><circle cx="392" cy="370" r="0.9"/>
  </g>
  <!-- button panel -->
  <path d="M330,268 L389,270.5 L389,384 L330,380 Z" fill="url(#panelg)"/>
  <!-- bezel -->
  <path d="M196,271.8 L325,277.5 Q331,277.8 331,284 L330.3,368.5 Q330.2,374.6 324,374.4 L194,369.8 Q188.5,369.5 188.7,364 L190,277.5 Q190.2,271.6 196,271.8 Z" fill="#101115"/>
  <!-- LCD outer -->
  <path d="M198.7,286.4 L320,290.3 L318.7,361 L195,356.8 Z" fill="#0f1126" stroke="#6a78a8" stroke-width="0.9"/>
  <!-- graph area -->
  <path d="M217,289 L319.3,292 L318.5,347.7 L214.2,343.8 Z" fill="#121736"/>
  <!-- grid fine -->
  <g stroke="#28336f" stroke-width="0.45">
    <line x1="222" y1="289.2" x2="219.5" y2="344"/><line x1="227" y1="289.4" x2="224.5" y2="344.2"/><line x1="232" y1="289.6" x2="229.5" y2="344.4"/>
    <line x1="244" y1="290" x2="241.5" y2="344.8"/><line x1="249" y1="290.2" x2="246.5" y2="345"/><line x1="254" y1="290.4" x2="251.5" y2="345.2"/><line x1="259" y1="290.6" x2="256.5" y2="345.4"/>
    <line x1="270" y1="291" x2="267.5" y2="345.8"/><line x1="275" y1="291.2" x2="272.5" y2="346"/><line x1="280" y1="291.4" x2="277.5" y2="346.2"/><line x1="284" y1="291.6" x2="281.5" y2="346.4"/>
    <line x1="294" y1="291.8" x2="291.5" y2="346.8"/><line x1="299" y1="292" x2="296.5" y2="347"/><line x1="304" y1="292.2" x2="301.5" y2="347.2"/><line x1="309" y1="292.4" x2="306.5" y2="347.4"/><line x1="314" y1="292.6" x2="311.5" y2="347.6"/>
    <line x1="216.6" y1="298" x2="319" y2="302"/><line x1="216.4" y1="303.5" x2="319" y2="307.5"/><line x1="216.1" y1="309" x2="319" y2="313"/>
    <line x1="215.6" y1="326" x2="318.8" y2="330"/><line x1="215.3" y1="332" x2="318.7" y2="336"/><line x1="215" y1="338" x2="318.6" y2="342"/>
  </g>
  <g stroke="#45559a" stroke-width="0.7">
    <line x1="239" y1="289.8" x2="236.5" y2="344.6"/><line x1="265" y1="290.8" x2="262.5" y2="345.6"/><line x1="290" y1="291.6" x2="287.5" y2="346.6"/>
    <line x1="215.8" y1="320" x2="318.9" y2="324"/>
  </g>
  <!-- bright blue frame -->
  <path d="M214.2,344 L217,289 L319.3,292 L318.5,347.7" fill="none" stroke="#3d8ef2" stroke-width="1.3"/>
  <line x1="217" y1="292.7" x2="319.2" y2="295.6" stroke="#3468c8" stroke-width="0.8"/>
  <line x1="214" y1="343.8" x2="318.6" y2="347.8" stroke="#4aa8ff" stroke-width="1.9"/>
  <!-- red dots column -->
  <g fill="#ff3030">
    <circle cx="213.2" cy="290.5" r="1.3"/><circle cx="212.9" cy="295.6" r="1.3"/><circle cx="212.6" cy="300.7" r="1.3"/><circle cx="212.4" cy="305.8" r="1.3"/>
    <circle cx="212.1" cy="310.9" r="1.3"/><circle cx="211.8" cy="316" r="1.3"/><circle cx="211.5" cy="321.1" r="1.3"/><circle cx="211.2" cy="326.2" r="1.3"/>
    <circle cx="210.9" cy="331.3" r="1.3"/><circle cx="210.6" cy="336.4" r="1.3"/><circle cx="210.3" cy="341.5" r="1.3"/>
  </g>
  <!-- waveform -->
  <path d="M216.0,316.8 L222.7,317.1 L223.7,303.5 L224.4,317.5 L225.1,319.6 L226.1,317.3 L230.7,317.5 L231.7,303.8 L232.4,317.9 L233.1,320.0 L234.1,317.7 L238.6,317.9 L239.6,304.0 L240.3,318.3 L241.0,320.4 L242.0,318.1 L246.5,318.3 L247.5,304.3 L248.2,318.7 L248.9,320.8 L249.9,318.4 L254.5,318.7 L255.5,304.6 L256.2,319.1 L256.9,321.2 L257.9,318.8 L262.5,319.1 L263.5,303.5 L264.2,319.5 L264.9,321.6 L265.9,319.2 L266.5,319.3 L267.5,298.5 L268.2,319.7 L268.9,321.8 L269.9,319.4 L274.5,319.7 L275.5,298.6 L276.2,320.1 L276.9,322.2 L277.9,319.8 L282.5,320.1 L283.5,298.8 L284.2,320.5 L284.9,322.6 L285.9,320.2 L289.8,320.4 L290.8,299.0 L291.5,320.8 L292.2,323.0 L293.2,320.6 L297.9,320.8 L298.9,299.3 L299.6,321.2 L300.3,323.4 L301.3,321.0 L305.6,321.2 L306.6,299.6 L307.3,321.6 L308.0,323.8 L309.0,321.4 L313.2,321.6 L314.2,300.0 L314.9,322.0 L315.6,324.1 L316.6,321.8 L318.6,321.9" fill="none" stroke="#ee3a3a" stroke-width="0.9" stroke-linejoin="round"/>
  <!-- glare -->
  <path d="M190,300.5 L230,301.5 L230,302.3 L190,301.5 Z" fill="#ffffff" opacity="0.18"/>
  <path d="M278,303 L332,304.5 L332,305.8 L278,304.5 Z" fill="#ffffff" opacity="0.4"/>
  <ellipse cx="297" cy="310.8" rx="7.5" ry="1.8" fill="#ffffff" opacity="0.75" transform="rotate(-14 297 310.8)"/>
  <!-- label on screen -->
  <text x="249" y="293.2" font-family="'Liberation Sans', sans-serif" font-size="4.4" font-weight="bold" fill="#e8ecff">Ser.ss</text>
  <!-- lower panel -->
  <path d="M213.8,345.2 L293.4,348.3 L293.4,358.4 L213.8,355.7 Z" fill="#11162e" stroke="#7d94d6" stroke-width="0.8"/>
  <path d="M293.8,349 L317.4,349.8 L317.4,359.6 L293.8,358.6 Z" fill="#56659a"/>
  <rect x="303" y="352" width="12.5" height="4.5" rx="1.5" fill="none" stroke="#c8d0ee" stroke-width="0.7"/>
  <!-- brand text -->
  <text x="199" y="282.3" font-family="'Liberation Sans', sans-serif" font-size="7.2" font-weight="bold" fill="#cacace" transform="rotate(2.5 199 282)" textLength="26" lengthAdjust="spacing">HIOKI</text>
  <text x="228.4" y="283.6" font-family="'Liberation Sans', sans-serif" font-size="4.6" font-weight="bold" fill="#b4b4bc" transform="rotate(2.5 228 283)" textLength="92" lengthAdjust="spacing">MR8870-20  MEMORY  HiCORDER</text>
  <!-- purple buttons -->
  <g fill="#9484ee" stroke="#bfb2ff" stroke-width="0.6">
    <rect x="336" y="281" width="13.5" height="6.8" rx="3.4"/>
    <rect x="353.8" y="281.5" width="13.5" height="6.8" rx="3.4"/>
    <rect x="372" y="282" width="13.5" height="6.8" rx="3.4"/>
  </g>
  <g font-family="'Liberation Sans', sans-serif" font-size="2.3" fill="#d8d8e0" text-anchor="middle" font-weight="bold">
    <text x="342.7" y="278.6">WAVE DATA</text><text x="360.5" y="279.1">SET</text><text x="378.7" y="279.6">FILE</text>
    <text x="341" y="293.5">CH.SCR</text><text x="378.7" y="294.3">SF</text>
    <text x="341" y="307">STATUS</text><text x="341" y="333.5">ZOOM</text><text x="360" y="349">SCROLL</text>
    <text x="341" y="368">SAVE</text><text x="372" y="368.7">START/STOP</text>
  </g>
  <!-- round dark buttons -->
  <g fill="#23252c" stroke="#5e6068" stroke-width="0.9">
    <circle cx="341" cy="299.8" r="4.6"/><circle cx="378.7" cy="301" r="4.6"/><circle cx="340.3" cy="340.4" r="4.4"/>
  </g>
  <circle cx="341.1" cy="374.8" r="4.6" fill="#7a7c82" stroke="#3a3b40" stroke-width="0.8"/>
  <!-- d-pad -->
  <rect x="350" y="311.5" width="19" height="18" rx="2.5" fill="#2a2b31"/>
  <g fill="#8d8f95">
    <path d="M353.8,302.5 L360.3,297.3 L366.9,302.5 L366.9,308.6 L353.8,308.6 Z"/>
    <path d="M336.8,319 L341,313.2 L347.9,313.2 L347.9,325 L341,325 Z"/>
    <rect x="353.8" y="315.2" width="11.2" height="10.4"/>
    <path d="M371.5,313.2 L378.4,313.2 L382.6,319 L378.4,325 L371.5,325 Z"/>
    <path d="M352.4,332.1 L366.1,332.1 L366.1,338.5 L359.2,342.6 L352.4,338.5 Z"/>
  </g>
  <text x="376.6" y="338.5" font-family="'Liberation Sans', sans-serif" font-size="3.4" fill="#e0e0e8" text-anchor="middle">&#9650;&#9660;</text>
  <!-- blue buttons -->
  <g fill="#64a2f2">
    <path d="M334.7,357 L338.5,352.3 L346.8,352.3 L346.8,361.6 L338.5,361.6 Z"/>
    <rect x="353.2" y="352.5" width="11.3" height="9.5" rx="1"/>
    <path d="M370.2,353.5 L378.8,353.5 L383,358.5 L378.8,363.5 L370.2,363.5 Z"/>
  </g>
  <!-- LED & start -->
  <circle cx="355.6" cy="375.3" r="1.8" fill="#d8d27a"/>
  <rect x="362.4" y="371.2" width="18.6" height="11.3" rx="2.5" fill="#6fe2b4" stroke="#1b3a32" stroke-width="1.2"/>
  <rect x="377" y="392" width="9" height="3" fill="#2a2b2e"/>
  </g>
  <g filter="url(#ph3)">
  <!-- ===== lower scene ===== -->
  <path d="M231.5,388 L398,394.5 L398,463 L231.5,463 Z" fill="#c8cbc8"/>
  <rect x="218" y="387" width="13.5" height="76" fill="#c0c2c0"/>
  <rect x="218" y="387" width="1.6" height="76" fill="#878b88"/>
  <rect x="229" y="387" width="1" height="76" fill="#a6a9a7"/>
  <circle cx="228.3" cy="395.7" r="3.3" fill="#9ea19f"/>
  <!-- L frame -->
  <path d="M231.5,404 L268,404 L268,414.5 L244,414.5 L244,463 L231.5,463 Z" fill="#d7d9d7"/>
  <!-- paper -->
  <path d="M244,414.5 L281,414.5 L282,432 L281,445 L270,443 L260,445 L250,443 L244,445 Z" fill="#f1f1f1"/>
  <rect x="244" y="445" width="50" height="18" fill="#d9d9d9"/>
  <!-- glove translucent -->
  <path d="M262,390 Q300,391 338,403 Q374,416 398,432 L398,463 L254,463 Q254,452 258,447 Q264,442 270,444 Q276,447 281,445 L282,428 L280,414 Q270,411 265,404 Q260,396 262,390 Z" fill="#d0cccb"/>
  <!-- pink hand (muted top) -->
  <path d="M270,408 Q305,400 345,410 Q378,420 394,434 L394,463 L280,463 Q276,440 280,420 Q272,416 270,408 Z" fill="#cdb2af"/>
  <path d="M281,416 Q312,408 346,418 Q378,428 392,442 L392,463 L281,463 Q278,440 281,416 Z" fill="url(#handg)"/>
  <path d="M316,424 Q344,420 366,432 Q385,443 390,463 L318,463 Q308,444 316,424 Z" fill="#b8766d" opacity="0.6"/>
  <g stroke="#e6d6d5" stroke-width="1.1" fill="none" opacity="0.6">
    <path d="M288,418 Q296,438 298,463"/>
    <path d="M298,414 Q310,436 313,463"/>
    <path d="M309,413 Q323,436 327,463"/>
    <path d="M320,414 Q336,436 340,463"/>
    <path d="M331,417 Q349,438 352,463"/>
    <path d="M342,420 Q360,440 364,463"/>
    <path d="M354,425 Q371,442 375,463"/>
    <path d="M366,430 Q381,446 384,463"/>
  </g>
  <path d="M262,390 Q300,391 338,403 Q374,416 398,432 L398,437 Q372,422 338,410 Q300,399 266,400 Z" fill="#d6d2d1" opacity="0.9"/>
  <path d="M255,446 Q266,441 282,445 L300,463 L255,463 Z" fill="#dacfcf" opacity="0.85"/>
  <path d="M279,430 Q290,436 296,463 L280,463 Z" fill="#e2d2d1" opacity="0.6"/>
  <!-- bottom right white -->
  <path d="M386,430 Q392,428 398,428 L398,463 L384,463 Z" fill="#eeecec"/>
  <!-- copper tape -->
  <path d="M199,441 L237,444 L236.5,451.5 L199,449.5 Z" fill="#c07458"/>
  <rect x="197.5" y="439.5" width="7" height="10" rx="1" fill="#cf8a6c"/>
</g>
</g>

</svg>
</body></html>
